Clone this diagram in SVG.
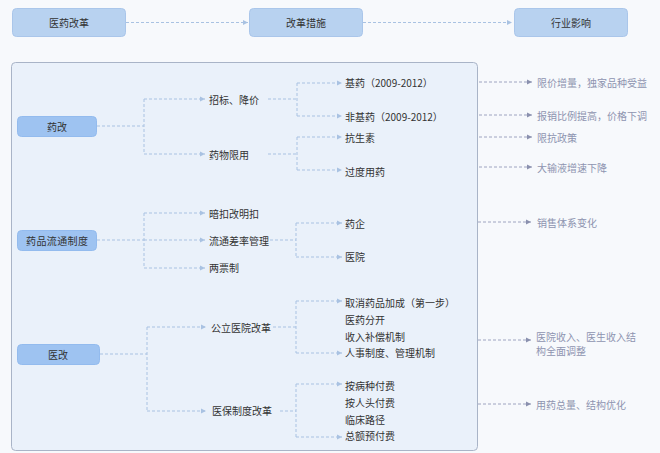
<svg xmlns="http://www.w3.org/2000/svg" width="660" height="453" viewBox="0 0 660 453">
<style>
text{font-family:"Noto Sans CJK SC","Liberation Sans",sans-serif;font-size:10px;fill:#333;dominant-baseline:central}
.top rect{fill:#b8d2f0;stroke:#aac6ea;stroke-width:1}
.main rect{fill:#9ec3f1;stroke:#93bbee;stroke-width:1}
.c{text-anchor:middle}
.r{fill:#8e94b0}
.cn path{fill:none;stroke:#a9c2e2;stroke-width:1;stroke-dasharray:3,2}
.cn .g{stroke:#9ea4c0}
.cn .a{marker-end:url(#ab)}
.cn .ag{marker-end:url(#ag)}
</style>
<defs>
<marker id="ab" markerUnits="userSpaceOnUse" markerWidth="5" markerHeight="6" refX="5" refY="3" orient="auto"><path d="M0,0.5 L5,3 L0,5.5 z" fill="#a9c2e2"/></marker>
<marker id="ag" markerUnits="userSpaceOnUse" markerWidth="5" markerHeight="6" refX="5" refY="3" orient="auto"><path d="M0,0.5 L5,3 L0,5.5 z" fill="#8a90ae"/></marker>
</defs>
<rect x="0" y="0" width="660" height="453" fill="#f7f9fc"/>
<rect id="container" x="11.5" y="62.5" width="466" height="388" rx="4" fill="#eaf1fa" stroke="#a9b4c7" stroke-width="1"/>

<g id="connectors" class="cn">
<path class="a" d="M126,22.5 H248"/>
<path class="a" d="M363,22.5 H512"/>

<path d="M97,126 H144 M144,99 V154"/>
<path class="a" d="M144,99 H205"/>
<path class="a" d="M144,154 H205"/>
<path d="M268,99 H297 M297,83 V116"/>
<path class="a" d="M297,83 H342"/>
<path class="a" d="M297,116 H342"/>
<path d="M268,154 H297 M297,137 V170"/>
<path class="a" d="M297,137 H342"/>
<path class="a" d="M297,170 H342"/>

<path d="M97,240 H144 M144,213 V268"/>
<path class="a" d="M144,213 H205"/>
<path class="a" d="M144,240 H205"/>
<path class="a" d="M144,268 H205"/>
<path d="M270,240 H296 M296,223 V257"/>
<path class="a" d="M296,223 H342"/>
<path class="a" d="M296,257 H342"/>

<path d="M100,354 H147 M147,327 V411"/>
<path class="a" d="M147,327 H206"/>
<path class="a" d="M147,411 H206"/>
<path d="M273,327 H296 M296,301 V353"/>
<path class="a" d="M296,301 H342"/>
<path class="a" d="M296,353 H342"/>
<path d="M280,411 H296 M296,384 V437"/>
<path class="a" d="M296,384 H342"/>
<path class="a" d="M296,437 H342"/>

<path class="g ag" d="M479,82 H532"/>
<path class="g ag" d="M479,115 H532"/>
<path class="g ag" d="M479,137 H532"/>
<path class="g ag" d="M479,167 H532"/>
<path class="g ag" d="M478,222 H531"/>
<path class="g ag" d="M478,340 H531"/>
<path class="g ag" d="M478,404 H531"/>
</g>

<g id="n-yiyaogaige" class="top"><rect x="12.5" y="8.5" width="113" height="28" rx="4"/><text class="c" x="69" y="22.5">医药改革</text></g>
<g id="n-gaigecuoshi" class="top"><rect x="249.5" y="8.5" width="113" height="28" rx="4"/><text class="c" x="306" y="22.5">改革措施</text></g>
<g id="n-hangyeyingxiang" class="top"><rect x="514.5" y="8.5" width="113" height="28" rx="4"/><text class="c" x="571" y="22.5">行业影响</text></g>

<g id="n-yaogai" class="main"><rect x="17.5" y="116.5" width="79" height="20" rx="4"/><text class="c" x="57" y="126.5">药改</text></g>
<g id="n-liutong" class="main"><rect x="17.5" y="230.5" width="79" height="20" rx="4"/><text x="26" y="240.5" textLength="62" lengthAdjust="spacing">药品流通制度</text></g>
<g id="n-yigai" class="main"><rect x="17.5" y="344.5" width="82" height="20" rx="4"/><text class="c" x="58" y="354.5">医改</text></g>

<g id="n-zhaobiao"><text x="209" y="99">招标、降价</text></g>
<g id="n-yaowu"><text x="209" y="154">药物限用</text></g>
<g id="n-jiyao"><text x="345" y="82.5">基药（2009-2012）</text></g>
<g id="n-feijiyao"><text x="345" y="116.5">非基药（2009-2012）</text></g>
<g id="n-kangshengsu"><text x="345" y="137.5">抗生素</text></g>
<g id="n-guodu"><text x="345" y="171">过度用药</text></g>

<g id="n-ankou"><text x="209" y="213">暗扣改明扣</text></g>
<g id="n-chalv"><text x="209" y="240">流通差率管理</text></g>
<g id="n-liangpiao"><text x="209" y="267.5">两票制</text></g>
<g id="n-yaoqi"><text x="345" y="223.5">药企</text></g>
<g id="n-yiyuan"><text x="345" y="256.5">医院</text></g>

<g id="n-gongli"><text x="211" y="327">公立医院改革</text></g>
<g id="n-yibao"><text x="212" y="410.5">医保制度改革</text></g>
<g id="n-quxiao"><text x="345" y="302">取消药品加成（第一步）</text></g>
<g id="n-yiyaofenkai"><text x="345" y="319">医药分开</text></g>
<g id="n-shouru"><text x="345" y="336">收入补偿机制</text></g>
<g id="n-renshi"><text x="345" y="352.5">人事制度、管理机制</text></g>
<g id="n-bingzhong"><text x="345" y="385.5">按病种付费</text></g>
<g id="n-rentou"><text x="345" y="402.5">按人头付费</text></g>
<g id="n-linchuang"><text x="345" y="419">临床路径</text></g>
<g id="n-zonge"><text x="345" y="435.5">总额预付费</text></g>

<g id="r-xianjia"><text class="r" x="537" y="82">限价增量，独家品种受益</text></g>
<g id="r-baoxiao"><text class="r" x="537" y="115">报销比例提高，价格下调</text></g>
<g id="r-xiankang"><text class="r" x="537" y="137.5">限抗政策</text></g>
<g id="r-dashuye"><text class="r" x="537" y="167">大输液增速下降</text></g>
<g id="r-xiaoshou"><text class="r" x="537" y="222">销售体系变化</text></g>
<g id="r-yiyuanshouru"><text class="r" x="536" y="336.5">医院收入、医生收入结</text><text class="r" x="536" y="350">构全面调整</text></g>
<g id="r-yongyao"><text class="r" x="536" y="404">用药总量、结构优化</text></g>
</svg>
